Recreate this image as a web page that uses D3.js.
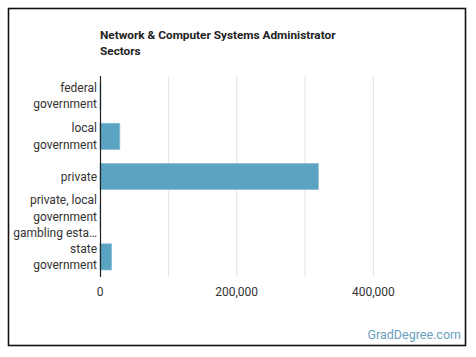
<!DOCTYPE html>
<html><head><meta charset="utf-8">
<script src="https://cdn.jsdelivr.net/npm/d3@7"></script>
<style>body{margin:0;background:#fff;} text{font-family:Roboto, "Noto Sans", sans-serif;}</style>
</head><body>
<svg id="c" width="476" height="357"></svg>
<script>
const categories = [["federal","government"],["local","government"],["private"],["private, local","government","gambling esta…"],["state","government"]];
const values = [1200, 29000, 319500, 800, 17000];
const tickValues = [0, 200000, 400000];
const gridValues = [0, 100000, 200000, 300000, 400000];
const titleLines = ["Network & Computer Systems Administrator", "Sectors"];

const svg = d3.select("#c");
svg.append("rect").attr("x",8.5).attr("y",8.5).attr("width",457).attr("height",337)
  .attr("fill","#fff").attr("stroke","#111").attr("stroke-width",1.6);

svg.append("text").attr("x",100).attr("y",39).attr("font-size",11.8).attr("font-weight","bold").attr("fill","#222")
  .selectAll("tspan").data(titleLines).join("tspan").attr("x",100).attr("dy",(d,i)=>i?16:0).text(d=>d);

const x = d3.scaleLinear().domain([0,500000]).range([100,441.7]);
const y = d3.scaleBand().domain(d3.range(categories.length)).range([76,277]).paddingInner(0.35).paddingOuter(0.175);

svg.append("g").selectAll("line").data(gridValues.slice(1)).join("line")
  .attr("x1",d=>x(d)).attr("x2",d=>x(d)).attr("y1",76).attr("y2",277)
  .attr("stroke","#e3e3e3").attr("stroke-width",1);

svg.append("g").selectAll("rect").data(values).join("rect")
  .attr("x",x(0)).attr("y",(d,i)=>y(i)).attr("width",d=>x(d)-x(0)).attr("height",y.bandwidth())
  .attr("fill","#5ba3c2").attr("stroke","#8cc0d6").attr("stroke-width",0.8);

svg.append("line").attr("x1",100.5).attr("x2",100.5).attr("y1",76).attr("y2",277).attr("stroke","#222").attr("stroke-width",1.2);

const lab = svg.append("g");
categories.forEach((lines,i)=>{
  const cy = y(i)+y.bandwidth()/2;
  const lh = 16.5;
  const t = lab.append("text").attr("text-anchor","end").attr("font-size",12).attr("fill","#333");
  lines.forEach((l,j)=>{
    t.append("tspan").attr("x",97).attr("y",cy + (j-(lines.length-1)/2)*lh + 4).text(l);
  });
});

svg.append("g").selectAll("text").data(tickValues).join("text")
  .attr("x",d=>x(d)).attr("y",296).attr("text-anchor","middle").attr("font-size",12).attr("fill","#333")
  .text(d=>d3.format(",")(d));

svg.append("text").attr("x",461).attr("y",339).attr("text-anchor","end").attr("font-size",12.5).attr("fill","#6a9fbf").text("GradDegree.com");
</script>
</body></html>
